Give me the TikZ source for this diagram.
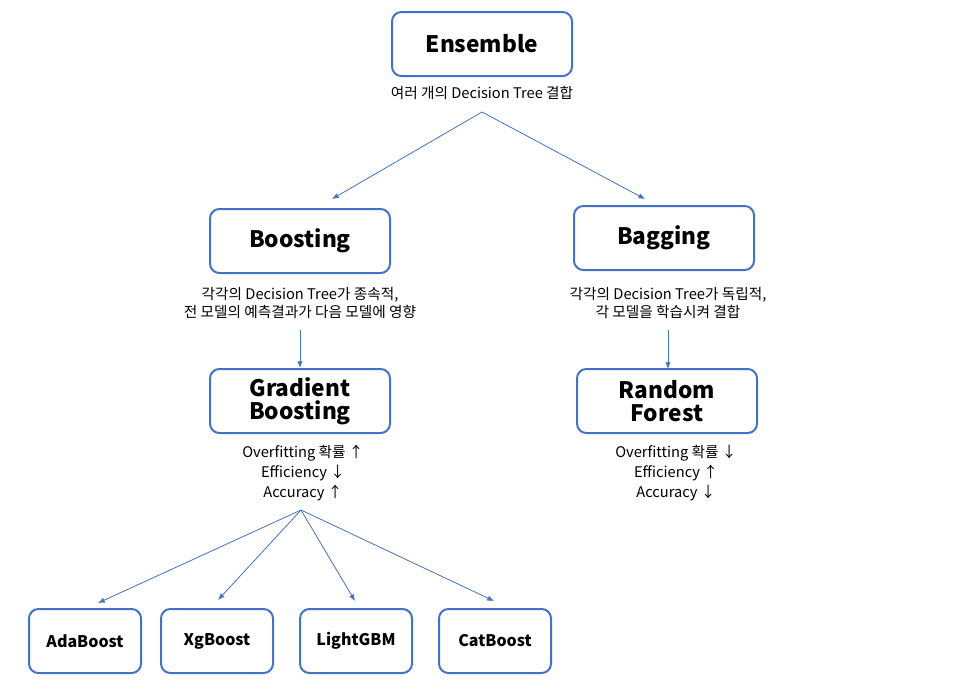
\documentclass[tikz,border=0pt]{standalone}
\usepackage{fontspec}
\usetikzlibrary{arrows.meta}
\setmainfont{Noto Sans CJK KR}
\begin{document}
\begin{tikzpicture}[x=0.75pt,y=-0.75pt,
  box/.style={draw=bl,line width=1.5pt,rounded corners=7pt,fill=white,align=center,inner sep=0pt},
  big/.style={box,minimum width=135pt,minimum height=48pt,font=\bfseries\fontsize{17}{19}\selectfont},
  small/.style={box,minimum width=84pt,minimum height=48pt,font=\bfseries\fontsize{12}{14}\selectfont},
  lab/.style={align=center,font=\fontsize{11}{14}\selectfont,inner sep=0pt},
  arr/.style={draw=bl,line width=0.6pt,-{Latex[length=5pt,width=4pt]}}]
\definecolor{bl}{HTML}{4472C4}
\useasboundingbox (0,0) rectangle (953,693);
\node[big] (ens) at (482,44) {Ensemble};
\node[lab] (ensl) at (482,93) {여러 개의 Decision Tree 결합};
\coordinate (ensp) at (482,112);
\node[big] (boo) at (300,241) {Boosting};
\node[big] (bag) at (664,238) {Bagging};
\draw[arr] (ensp) -- (332,199);
\draw[arr] (ensp) -- (645,199);
\node[lab] (bool) at (300,303) {각각의 Decision Tree가 종속적,\\전 모델의 예측결과가 다음 모델에 영향};
\node[lab] (bagl) at (668,303) {각각의 Decision Tree가 독립적,\\각 모델을 학습시켜 결합};
\node[big,font=\bfseries\fontsize{17}{17}\selectfont] (gb) at (300,401) {Gradient\\Boosting};
\node[big,font=\bfseries\fontsize{17}{17}\selectfont] (rf) at (667,401) {Random\\Forest};
\draw[arr] (300,330) -- (gb.north);
\draw[arr] (668,330) -- (668,369);
\node[lab,font=\fontsize{11}{15}\selectfont] (gbl) at (303,473) {Overfitting 확률 ↑\\Efficiency ↓\\Accuracy ↑};
\node[lab,font=\fontsize{11}{15}\selectfont] (rfl) at (676,473) {Overfitting 확률 ↓\\Efficiency ↑\\Accuracy ↓};
\coordinate (gbp) at (301,510);
\node[small] (ada) at (85,641) {AdaBoost};
\node[small] (xg) at (217,641) {XgBoost};
\node[small] (lg) at (356,641) {LightGBM};
\node[small] (cat) at (495,641) {CatBoost};
\draw[arr] (gbp) -- (98,603);
\draw[arr] (gbp) -- (218,600);
\draw[arr] (gbp) -- (355,601);
\draw[arr] (gbp) -- (494,601);
\end{tikzpicture}
\end{document}
